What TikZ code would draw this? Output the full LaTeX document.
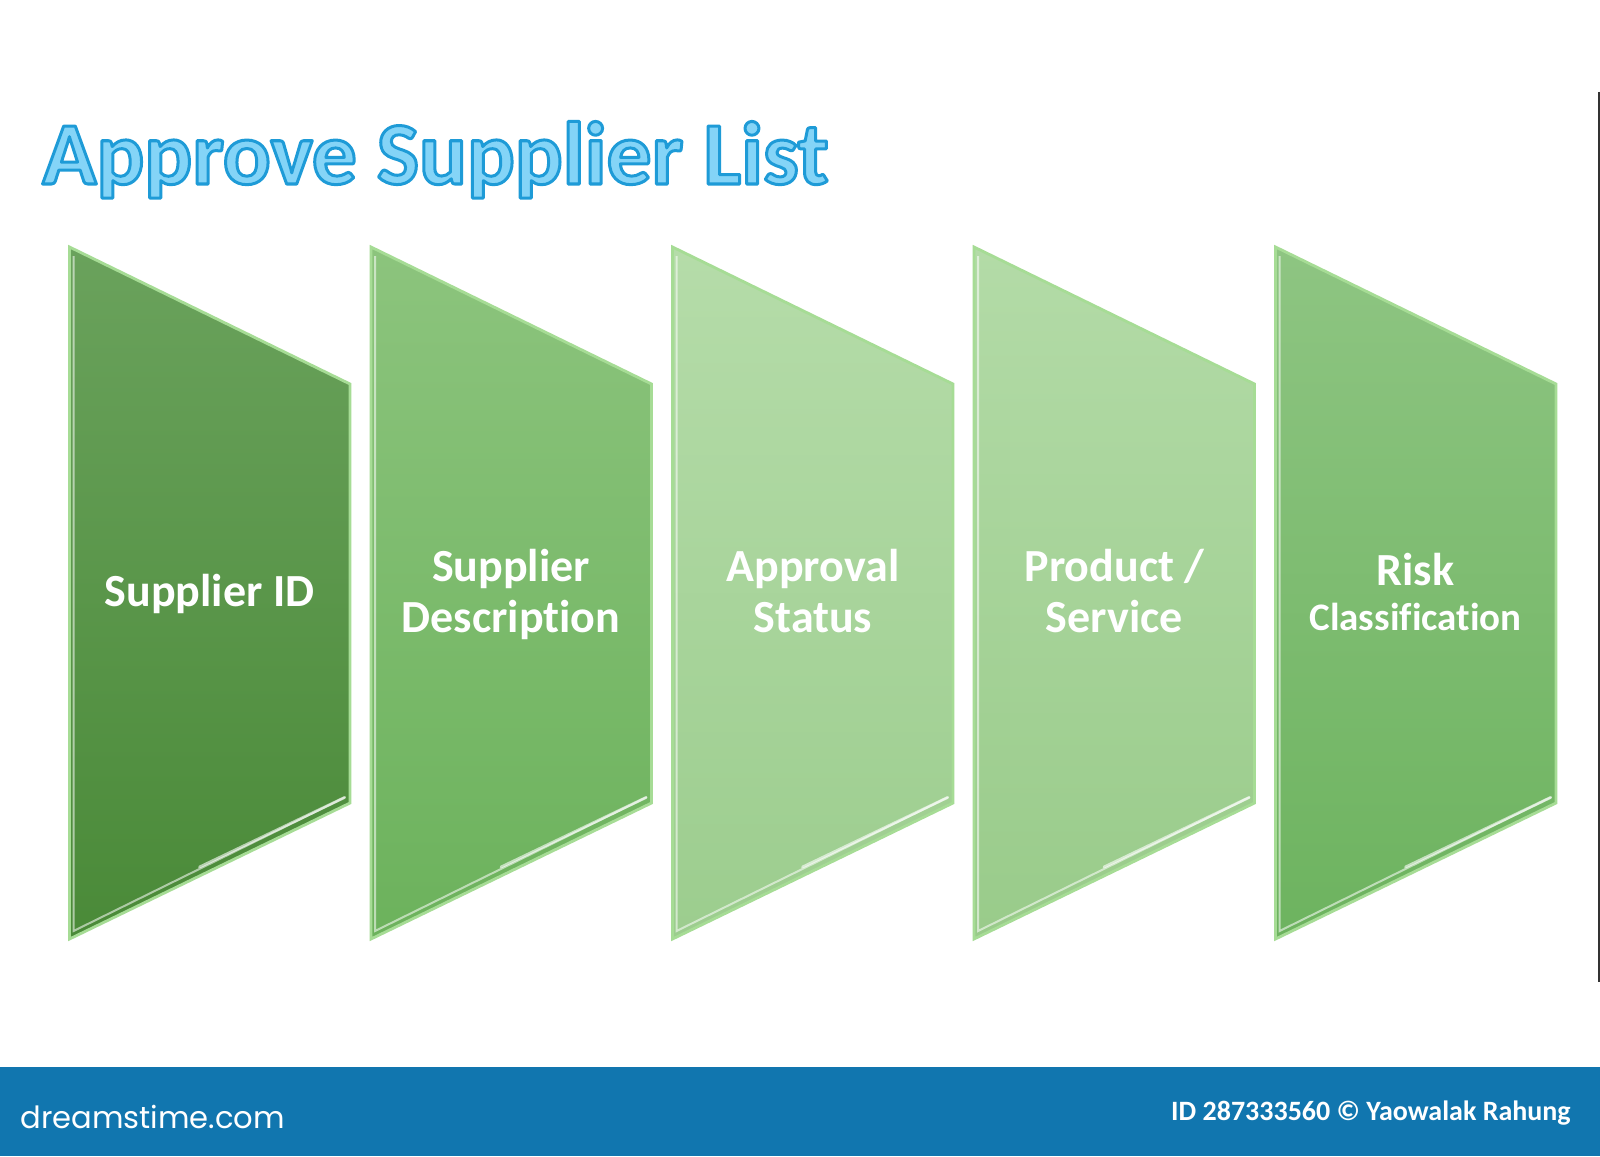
\documentclass[tikz,border=0pt]{standalone}
\usepackage{fontspec}
\setmainfont{Carlito}[Ligatures={NoCommon}]
\newfontfamily\logofont{Poppins}
\definecolor{gat}{HTML}{6AA25C}\definecolor{gab}{HTML}{4A8A38}
\definecolor{gbt}{HTML}{8CC47D}\definecolor{gbb}{HTML}{6CB25C}
\definecolor{gct}{HTML}{B5DCA9}\definecolor{gcb}{HTML}{9CCD8E}
\definecolor{gdt}{HTML}{B3DBA7}\definecolor{gdb}{HTML}{99CB8A}
\definecolor{get}{HTML}{8EC582}\definecolor{geb}{HTML}{6DB35F}
\definecolor{edgegreen}{HTML}{A6DC95}
\definecolor{titlefill}{HTML}{84D4F7}
\definecolor{band}{HTML}{1176AF}
\newcommand\outlinedtitle[1]{\special{pdf:literal direct 2 Tr 1.5 w 1 j 0.118 0.608 0.843 RG}#1\special{pdf:literal direct 0 Tr}}
\tikzset{
  panel/.style={draw=edgegreen, line width=1.4pt, line join=miter},
  glint/.style={white, opacity=0.55, line width=1pt},
  lbl/.style={text=white, font=\fontsize{23}{25.5}\selectfont\bfseries, align=center, anchor=base, inner sep=0pt},
}
\begin{document}
\begin{tikzpicture}[x=0.5pt,y=-0.5pt]
\useasboundingbox (0,0) rectangle (1600,1156);
\fill[white] (0,0) rectangle (1600,1156);
% panels
\foreach \c/\L in {a/69.5, b/371, c/672.5, d/974, e/1275.5} {
  \shade[top color=g\c t, bottom color=g\c b] (\L,247) -- (\L+280.5,384) -- (\L+280.5,803) -- (\L,939) -- cycle;
  \draw[panel] (\L,247) -- (\L+280.5,384) -- (\L+280.5,803) -- (\L,939) -- cycle;
  \draw[glint] (\L+4,256) -- (\L+4,931) -- (\L+276,797);
  \draw[white, opacity=0.6, line width=1.4pt, line cap=round] (\L+130,867) -- (\L+275,797.5);
}
% labels (anchor = baseline of last line)
\node[lbl] (s1) at (209.5,606) {Supplier ID};
\node[lbl] (s2) at (511,632) {Supplier\\Description};
\node[lbl] (s3) at (813,632) {Approval\\Status};
\node[lbl] (s4) at (1114.5,632) {Product /\\Service};
\node[lbl, font=\fontsize{19.5}{22.5}\selectfont\bfseries] (s5) at (1415.5,630) {{\fontsize{23}{22.5}\selectfont Risk}\\Classification};
% title
\node[anchor=base west, inner sep=0pt, text=titlefill, font=\fontsize{44.6}{52}\selectfont\bfseries] (title) at (42,184) {\outlinedtitle{Approve Supplier List}};
% right frame line
\coordinate (ft) at (1599,92);
\coordinate (fb) at (1599,982);
\draw[line width=1pt, black!80] (ft) -- (fb);
% footer band
\fill[band] (0,1067) rectangle (1600,1156);
\node[anchor=base west, inner sep=0pt, text=white, font=\fontsize{15.3}{18}\selectfont\logofont] (logo) at (20,1128) {dreamstime.com};
\node[anchor=base east, inner sep=0pt, text=white, font=\fontsize{14}{16}\selectfont\bfseries] (credit) at (1571,1120) {ID 287333560 © Yaowalak Rahung};
\end{tikzpicture}
\end{document}
